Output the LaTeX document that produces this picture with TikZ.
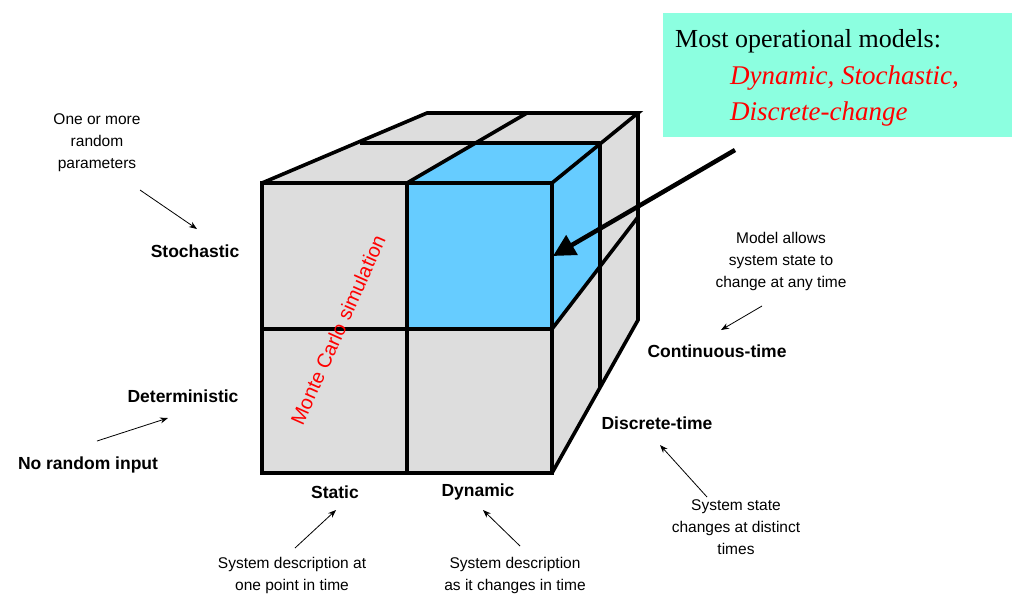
\documentclass[tikz,border=0pt]{standalone}
\usepackage{fontspec}
\setmainfont{Liberation Sans}
\newfontfamily\tms{Liberation Serif}
\usetikzlibrary{arrows.meta}
\definecolor{cgray}{HTML}{DDDDDD}
\definecolor{cblue}{HTML}{66CCFF}
\definecolor{cteal}{HTML}{8CFFE0}
\begin{document}
\begin{tikzpicture}[x=1pt,y=-1pt,
  edge/.style={line width=3.6pt,line join=miter},
  lbl/.style={font=\fontsize{17.5}{20}\selectfont\bfseries,inner sep=0pt},
  note/.style={font=\fontsize{15.5}{22}\selectfont,align=center,inner sep=0pt},
  thin/.style={-{Stealth[length=8pt,width=6pt]},line width=0.8pt}]
\useasboundingbox (0,0) rectangle (1024,611);
\fill[white] (0,0) rectangle (1024,611);
% faces
\fill[cgray] (262,183) rectangle (552,473);
\fill[cgray] (262,183) -- (552,183) -- (638,113) -- (427,113) -- cycle;
\fill[cgray] (552,183) -- (638,113) -- (638,320) -- (552,473) -- cycle;
\fill[cblue] (407,183) rectangle (552,329);
\fill[cblue] (407,183) -- (552,183) -- (600,143) -- (475,143) -- cycle;
\fill[cblue] (552,183) -- (600,143) -- (600,266) -- (552,329) -- cycle;
% edges
\draw[edge] (262,183) rectangle (552,473);
\draw[edge] (407,183) -- (407,473);
\draw[edge] (262,329) -- (552,329);
\draw[edge] (262,183) -- (427,113) -- (638,113) -- (552,183);
\draw[edge] (638,113) -- (638,320) -- (552,473);
\draw[edge] (360,143) -- (600,143);
\draw[edge] (407,183) -- (527,113);
\draw[edge] (600,143) -- (600,387);
\draw[edge] (552,329) -- (638,217);
\node[rotate=66,text=red,font=\fontsize{20}{24}\selectfont,inner sep=0pt] (mc) at (338,330) {Monte Carlo simulation};
% teal box
\node[fill=cteal,minimum width=349pt,minimum height=124pt,inner sep=0pt] (box) at (837.5,75) {};
\node[anchor=west,font=\tms\fontsize{26}{30}\selectfont,inner sep=0pt] (t1) at (675,41) {Most operational models:};
\node[anchor=west,font=\tms\itshape\fontsize{27}{30}\selectfont,text=red,inner sep=0pt] (t2) at (730,78) {Dynamic, Stochastic,};
\node[anchor=west,font=\tms\itshape\fontsize{27}{30}\selectfont,text=red,inner sep=0pt] (t3) at (730,114) {Discrete-change};
\coordinate (as) at (735,150);
\coordinate (ae) at (553,256);
\draw[line width=4.5pt,-{Triangle[length=22pt,width=22pt]}] (as) -- (ae);
% labels
\node[note] (n1) at (97,143) {One or more\\random\\parameters};
\node[lbl] (sto) at (195,251) {Stochastic};
\node[lbl] (det) at (183,396) {Deterministic};
\node[lbl] (nri) at (88,465) {No random input};
\node[lbl] (sta) at (335,492) {Static};
\node[lbl] (dyn) at (478,492) {Dynamic};
\node[note] (n2) at (292,575) {System description at\\one point in time};
\node[note] (n3) at (515,575) {System description\\as it changes in time};
\node[lbl] (dt) at (657,423) {Discrete-time};
\node[lbl] (ct) at (717,351) {Continuous-time};
\node[note] (n4) at (781,261) {Model allows\\system state to\\change at any time};
\node[note] (n5) at (736,527) {System state\\changes at distinct\\times};
\coordinate (a1) at (140,190); \coordinate (b1) at (197,229);
\coordinate (a2) at (97,441); \coordinate (b2) at (168,418);
\coordinate (a3) at (295,548); \coordinate (b3) at (336,510);
\coordinate (a4) at (520,546); \coordinate (b4) at (483,510);
\coordinate (a5) at (707,497); \coordinate (b5) at (660,445);
\coordinate (a6) at (762,306); \coordinate (b6) at (721,330);
\draw[thin] (a1) -- (b1);
\draw[thin] (a2) -- (b2);
\draw[thin] (a3) -- (b3);
\draw[thin] (a4) -- (b4);
\draw[thin] (a5) -- (b5);
\draw[thin] (a6) -- (b6);
\end{tikzpicture}
\end{document}
